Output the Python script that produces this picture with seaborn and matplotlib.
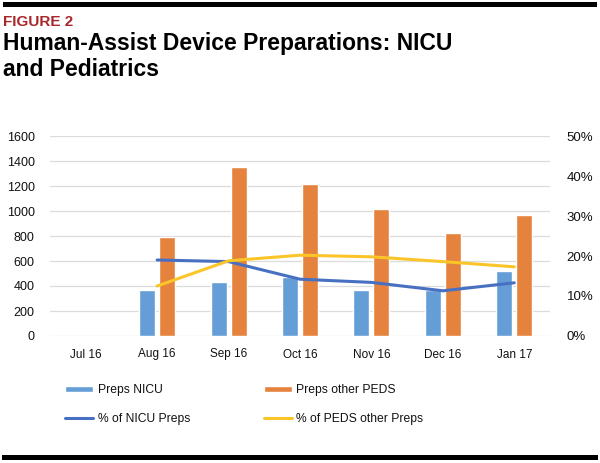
import numpy as np
import pandas as pd
import matplotlib
matplotlib.use("Agg")
import matplotlib.pyplot as plt
from matplotlib.patches import Rectangle
from matplotlib.ticker import FuncFormatter
import seaborn as sns

months = ["Jul 16", "Aug 16", "Sep 16", "Oct 16", "Nov 16", "Dec 16", "Jan 17"]
preps_nicu = [0, 370, 432, 475, 365, 368, 523]
preps_peds = [0, 795, 1352, 1215, 1020, 822, 968]
pct_nicu = [np.nan, 19.0, 18.6, 14.2, 13.4, 11.3, 13.3]
pct_peds = [np.nan, 12.5, 18.8, 20.2, 19.8, 18.6, 17.3]
left_ticks = [0, 200, 400, 600, 800, 1000, 1200, 1400, 1600]
right_ticks = [0, 10, 20, 30, 40, 50]

title_fig = "FIGURE 2"
title_line1 = "Human-Assist Device Preparations: NICU"
title_line2 = "and Pediatrics"

C_BLUE = "#659ED6"
C_ORANGE = "#E5823E"
C_LBLUE = "#4870C2"
C_YELLOW = "#FBC52A"

sns.set_theme(style="white")
plt.rcParams["font.family"] = ["Liberation Sans", "DejaVu Sans"]

fig = plt.figure(figsize=(6.0, 4.63), dpi=100)
ax = fig.add_axes([50/600, 1-336/463, 500/600, 200/463])

bars = pd.DataFrame({
    "month": months * 2,
    "value": preps_nicu + preps_peds,
    "series": ["Preps NICU"] * len(months) + ["Preps other PEDS"] * len(months),
})
sns.barplot(data=bars, x="month", y="value", hue="series", order=months,
            palette=[C_BLUE, C_ORANGE], width=0.56, gap=0.2, ax=ax,
            saturation=1, legend=True)

ax2 = ax.twinx()
idx = list(range(len(months)))
lines = pd.DataFrame({
    "pos": idx * 2,
    "pct": pct_nicu + pct_peds,
    "series": ["% of NICU Preps"] * len(months) + ["% of PEDS other Preps"] * len(months),
}).dropna()
sns.lineplot(data=lines, x="pos", y="pct", hue="series",
             palette=[C_LBLUE, C_YELLOW], linewidth=2.2, ax=ax2, legend=True)

ax.set_xlim(-0.5, len(months) - 0.5)
ax.set_ylim(0, 1600)
ax2.set_ylim(0, 50)
ax.set_yticks(left_ticks)
ax2.set_yticks(right_ticks)
ax2.yaxis.set_major_formatter(FuncFormatter(lambda v, p: f"{int(v)}%"))
ax.set_xlabel("")
ax.set_ylabel("")
ax2.set_xlabel("")
ax2.set_ylabel("")

ax.grid(axis="y", color="#DCDCDC", linewidth=0.9)
ax.set_axisbelow(True)
for a in (ax, ax2):
    for s in a.spines.values():
        s.set_visible(False)
ax.tick_params(axis="x", length=0, pad=9, labelsize=8.5, colors="#111111")
ax.tick_params(axis="y", length=0, pad=11, labelsize=9, colors="#111111")
ax2.tick_params(axis="y", length=0, pad=12, labelsize=9.5, colors="#111111")

h1, l1 = ax.get_legend_handles_labels()
h2, l2 = ax2.get_legend_handles_labels()
ax.get_legend().remove()
ax2.get_legend().remove()
handles = [h1[0], h2[0], h1[1], h2[1]]
labels = [l1[0], l2[0], l1[1], l2[1]]
leg = fig.legend(handles, labels, ncol=2, loc="center left",
                 bbox_to_anchor=(65/600, 1-404.5/463), frameon=False,
                 fontsize=8.7, handlelength=2.35, handleheight=0.5,
                 handletextpad=0.35, columnspacing=6.1, labelspacing=1.35,
                 borderpad=0, borderaxespad=0)
for t in leg.get_texts():
    t.set_color("#111111")

fig.text(3/600, 1-26/463, title_fig, color="#A8272B", fontsize=11,
         fontweight="bold", va="baseline", ha="left")
for txt, yb in ((title_line1, 50), (title_line2, 76)):
    fig.text(3/600, 1-yb/463, txt, color="black", fontsize=16.5,
             fontweight="bold", va="baseline", ha="left",
             family=["Liberation Sans Narrow", "Liberation Sans"])

fig.add_artist(Rectangle((3/600, 1-7/463), 594/600, 5/463, transform=fig.transFigure,
                         color="black", lw=0))
fig.add_artist(Rectangle((2/600, 1-459.5/463), 596/600, 5/463, transform=fig.transFigure,
                         color="black", lw=0))

fig.savefig("out.png", dpi=100, facecolor="white")
